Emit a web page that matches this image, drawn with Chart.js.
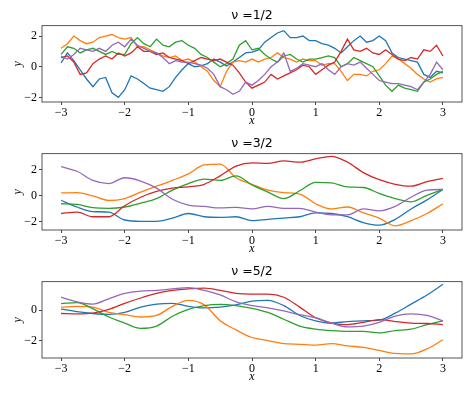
<!DOCTYPE html>
<html>
<head>
<meta charset="utf-8">
<script src="https://cdn.jsdelivr.net/npm/chart.js@4.4.1/dist/chart.umd.min.js"></script>
<style>
	html, body { margin: 0; padding: 0; background: #fff; }
	#wrap { position: relative; width: 474px; height: 395px; }
	canvas { position: absolute; left: 0; }
</style>
</head>
<body>
<div id="wrap">
	<canvas id="nu12" width="474" height="128" style="top:0px"></canvas>
	<canvas id="nu32" width="474" height="128" style="top:128px"></canvas>
	<canvas id="nu52" width="474" height="128" style="top:256px"></canvas>
</div>
<script>
// sample grids
const xFine = [
	-3, -2.9, -2.8, -2.7, -2.6, -2.5, -2.4, -2.3, -2.2, -2.1,
	-2, -1.9, -1.8, -1.7, -1.6, -1.5, -1.4, -1.3, -1.2, -1.1,
	-1, -0.9, -0.8, -0.7, -0.6, -0.5, -0.4, -0.3, -0.2, -0.1,
	0, 0.1, 0.2, 0.3, 0.4, 0.5, 0.6, 0.7, 0.8, 0.9,
	1, 1.1, 1.2, 1.3, 1.4, 1.5, 1.6, 1.7, 1.8, 1.9,
	2, 2.1, 2.2, 2.3, 2.4, 2.5, 2.6, 2.7, 2.8, 2.9,
	3,
]
const xSmooth = [
	-3, -2.75, -2.5, -2.25, -2, -1.75, -1.5, -1.25, -1, -0.75, -0.5, -0.25,
	0, 0.25, 0.5, 0.75, 1, 1.25, 1.5, 1.75, 2, 2.25, 2.5, 2.75, 3,
]

const xTicks = [-3, -2, -1, 0, 1, 2, 3]
const yTicks12 = [-2, 0, 2]
const yTicks32 = [-2, 0, 2]
const yTicks52 = [-2, 0]

// nu = 1/2
const blue12 = [
	0.25, 0.9, 0.4, -0.2, -0.8, -1.3, -0.8, -0.7, -1.7, -2.0,
	-1.5, -0.6, -0.8, -1.1, -1.4, -1.5, -1.6, -1.3, -0.7, -0.2,
	0.2, 0.0, 0.05, 0.2, 0.5, 0.3, 0.05, 0.3, 0.6, 0.9,
	0.95, 1.1, 1.6, 1.9, 2.2, 2.35, 1.9, 1.9, 2.0, 1.7,
	1.7, 1.5, 1.4, 1.2, 0.9, 1.3, 1.7, 2.0, 1.6, 1.7,
	2.0, 1.7, 0.9, 0.6, 0.5, 0.4, 0.3, -0.5, -0.7, -0.3,
	-0.4,
]
const orange12 = [
	1.2, 1.5, 2.0, 1.7, 1.5, 1.6, 1.9, 2.0, 2.1, 1.9,
	1.8, 1.9, 1.3, 1.3, 1.1, 0.9, 0.7, 0.6, 0.7, 0.4,
	0.5, 0.3, 0.0, -0.3, -0.9, -1.3, -0.3, 0.3, 0.4, 0.3,
	0.5, 0.3, 0.5, 0.6, 0.9, 0.6, 0.5, 0.3, 0.5, 0.4,
	0.4, 0.1, 0.2, 0.2, -0.3, -0.9, -0.5, -0.5, -0.6, -0.3,
	-0.2, 0.2, 0.7, 0.5, 0.2, -0.1, -0.5, -0.8, -1.0, -0.8,
	-0.7,
]
const green12 = [
	0.8, 1.3, 1.2, 0.9, 1.1, 1.2, 1.0, 0.8, 1.0, 0.8,
	0.8, 1.5, 1.9, 1.5, 1.3, 1.8, 1.4, 1.3, 1.6, 1.7,
	1.4, 1.2, 0.8, 0.6, 0.3, 0.0, 0.2, 0.5, 1.4, 1.7,
	1.1, 1.2, 0.8, 0.5, 0.3, 0.7, 0.8, 0.5, 0.3, 0.5,
	0.5, 0.6, 0.7, 0.6, 0.0, 0.2, 0.6, 0.4, 0.2, 0.0,
	-0.6, -1.2, -1.6, -1.2, -1.4, -1.5, -1.6, -1.0, -0.8, -0.5,
	-0.3,
]
const red12 = [
	0.6, 0.7, 0.3, -0.5, -0.4, 0.2, 0.5, 0.7, 0.5, 0.9,
	0.7, 0.9, 1.3, 1.0, 1.0, 0.8, 0.9, 0.6, 0.5, 0.4,
	0.2, 0.4, 0.6, 0.5, 0.4, 0.5, 0.3, 0.1, -0.4, -1.0,
	-1.4, -1.2, -1.0, -0.5, -0.8, -0.6, -0.4, -0.2, 0.1, 0.0,
	-0.5, -0.2, 0.1, 0.3, 1.0, 1.8, 1.1, 1.0, 1.2, 0.9,
	0.8, 1.1, 0.8, 0.5, 0.4, 0.6, 0.5, 1.1, 1.0, 1.4,
	0.7,
]
const purple12 = [
	0.7, 0.5, 0.8, 1.2, 1.1, 1.0, 1.2, 1.0, 1.4, 1.6,
	1.3, 1.8, 1.4, 1.2, 1.0, 0.9, 0.6, 0.2, 0.4, 0.3,
	0.3, 0.2, 0.1, -0.1, -0.5, -1.3, -1.5, -1.8, -1.6, -1.0,
	-1.2, -0.9, -0.5, 0.0, 0.3, 0.9, -0.3, -0.1, 0.2, 0.1,
	0.0, 0.2, -0.2, -0.5, 0.0, 0.2, 0.1, 0.3, -0.1, -0.5,
	-0.9, -1.0, -1.1, -1.1, -1.2, -1.3, -1.5, -1.0, -0.5, 0.3,
	-0.2,
]

// nu = 3/2
const blue32 = [-0.33, -0.85, -1.2, -1.25, -1.85, -1.95, -1.95, -1.7, -1.35, -1.6, -1.65, -1.6, -1.9, -1.8, -1.7, -1.6, -1.3, -1.35, -1.6, -2.05, -2.25, -1.8, -1.0, -0.3, 0.5]
const orange32 = [0.23, 0.25, 0.0, -0.35, -0.2, 0.3, 0.75, 1.2, 1.7, 2.4, 2.45, 1.4, 0.9, 0.45, 0.25, 0.15, -0.6, -1.0, -0.85, -1.3, -1.7, -2.3, -1.9, -1.35, -0.6]
const green32 = [-0.6, -0.65, -0.9, -0.95, -0.85, -0.55, -0.2, 0.45, 0.95, 1.3, 1.2, 1.55, 0.85, 0.3, -0.2, 0.4, 1.05, 1.0, 0.7, 0.65, 0.2, -0.2, -0.45, 0.05, 0.5]
const red32 = [-1.35, -1.25, -1.6, -1.6, -0.75, -0.1, 0.35, 0.6, 0.7, 0.9, 1.55, 2.3, 2.55, 2.5, 2.7, 2.6, 2.85, 3.05, 2.6, 1.8, 1.25, 0.9, 0.75, 1.1, 1.35]
const purple32 = [2.25, 1.9, 1.2, 0.95, 1.4, 1.15, 0.6, -0.25, -0.7, -0.8, -0.92, -0.88, -1.0, -0.8, -0.95, -0.95, -1.25, -1.45, -1.45, -1.0, -1.15, -0.8, -0.1, 0.45, 0.5]

// nu = 5/2
const blue52 = [0.07, -0.1, -0.22, -0.28, -0.15, 0.2, 0.4, 0.45, 0.25, 0.15, 0.2, 0.35, 0.6, 0.65, 0.3, -0.35, -0.7, -0.85, -0.75, -0.7, -0.65, -0.2, 0.4, 1.0, 1.7]
const orange52 = [0.2, 0.25, 0.2, -0.15, -0.3, -0.45, -0.35, 0.25, 0.65, 0.35, -0.7, -1.3, -1.8, -2.0, -2.2, -2.25, -2.3, -2.2, -2.35, -2.45, -2.65, -2.85, -2.88, -2.55, -1.95]
const green52 = [0.43, 0.5, 0.1, -0.45, -0.85, -1.2, -1.05, -0.4, 0.05, 0.3, 0.38, 0.3, 0.12, -0.15, -0.6, -1.05, -1.25, -1.35, -1.4, -1.4, -1.5, -1.35, -1.25, -0.95, -0.7]
const red52 = [-0.22, -0.25, -0.2, 0.05, 0.45, 0.8, 1.1, 1.3, 1.4, 1.45, 1.3, 1.1, 1.05, 1.05, 0.85, 0.2, -0.5, -0.85, -0.95, -0.8, -0.62, -0.75, -0.85, -0.88, -0.95]
const purple52 = [0.85, 0.55, 0.4, 0.75, 1.1, 1.25, 1.3, 1.4, 1.48, 1.3, 1.0, 0.55, 0.3, 0.15, -0.05, -0.3, -0.5, -0.85, -1.1, -1.05, -0.8, -0.4, -0.25, -0.35, -0.7]

const colors = ['#1f77b4', '#ff7f0e', '#2ca02c', '#d62728', '#9467bd']

// matplotlib style box round the plot
const spines = {
	id: 'spines',
	afterDraw(chart) {
		const { ctx, chartArea: a } = chart
		ctx.save()
		ctx.strokeStyle = '#555'
		ctx.lineWidth = 1
		ctx.strokeRect(a.left, a.top, a.right - a.left, a.bottom - a.top)
		ctx.restore()
	},
}

function minus(v) {
	return v < 0 ? '\u2212' + Math.abs(v) : String(v)
}

const tickFont = { family: 'Liberation Serif', size: 12 }
const labelFont = { family: 'Liberation Serif', size: 12, style: 'italic' }

function panel(id, title, xs, series, yTicks, yMin, yMax, smooth) {
	new Chart(document.getElementById(id), {
		type: 'line',
		data: {
			datasets: series.map((ys, i) => ({
				data: ys.map((y, j) => ({ x: xs[j], y: y })),
				borderColor: colors[i],
				borderWidth: 1.3,
				pointRadius: 0,
				tension: smooth ? 0.4 : 0,
				cubicInterpolationMode: smooth ? 'monotone' : 'default',
				order: series.length - i,
			})),
		},
		options: {
			responsive: false,
			animation: false,
			layout: { padding: { top: 8.6, right: 12, bottom: 0, left: 0 } },
			plugins: {
				legend: { display: false },
				tooltip: { enabled: false },
				title: {
					display: true,
					text: title,
					fullSize: false,
					color: '#000',
					font: { family: 'DejaVu Sans', size: 12.5, weight: 'normal' },
					padding: { top: 0, bottom: 2 },
				},
			},
			scales: {
				x: {
					type: 'linear',
					min: -3.3,
					max: 3.3,
					afterFit: s => { s.height = 26 },
					afterBuildTicks: s => { s.ticks = xTicks.map(v => ({ value: v })) },
					grid: { drawOnChartArea: false, drawTicks: true, tickLength: 3, color: '#444' },
					border: { display: false },
					ticks: { padding: 1, maxRotation: 0, autoSkip: false, color: '#000', font: tickFont, callback: minus },
					title: { display: true, text: 'x', color: '#000', font: labelFont, padding: { top: 0, bottom: 0 } },
				},
				y: {
					min: yMin,
					max: yMax,
					afterFit: s => { s.width = 42 },
					afterBuildTicks: s => { s.ticks = yTicks.map(v => ({ value: v })) },
					grid: { drawOnChartArea: false, drawTicks: true, tickLength: 3, color: '#444' },
					border: { display: false },
					ticks: { padding: 2, color: '#000', font: tickFont, callback: minus },
					title: { display: true, text: 'y', color: '#000', font: labelFont, padding: { top: 11, bottom: 0 } },
				},
			},
		},
		plugins: [spines],
	})
}

panel('nu12', '\u03bd =1/2', xFine, [blue12, orange12, green12, red12, purple12], yTicks12, -2.3, 2.68, false)
panel('nu32', '\u03bd =3/2', xSmooth, [blue32, orange32, green32, red32, purple32], yTicks32, -2.62, 3.26, true)
panel('nu52', '\u03bd =5/2', xSmooth, [blue52, orange52, green52, red52, purple52], yTicks52, -3.15, 1.88, true)
</script>
</body>
</html>
